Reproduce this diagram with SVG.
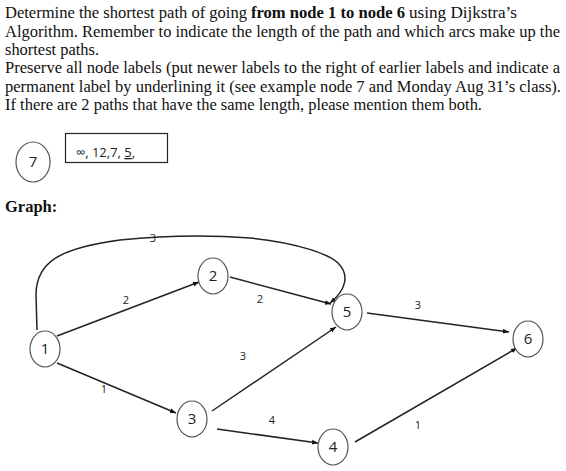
<svg xmlns="http://www.w3.org/2000/svg" width="566" height="471" viewBox="0 0 566 471">
<style>
.q{font-family:"Liberation Serif","Times New Roman",serif;font-size:16.5px;fill:#111}
.b{font-weight:bold}
.node ellipse{fill:#fff;stroke:#555;stroke-width:1.2}
.node text{font-family:"Open Sans","Liberation Sans",sans-serif;font-size:15px;fill:#222;text-anchor:middle}
.edge{fill:none;stroke:#222;stroke-width:1.5}
.lbl{font-family:"Open Sans","Liberation Sans",sans-serif;font-size:11px;fill:#222;text-anchor:middle}
</style>
<defs>
<marker id="ah" viewBox="0 0 10 10" refX="10" refY="5" markerWidth="6" markerHeight="6" orient="auto" markerUnits="userSpaceOnUse">
<path d="M0,1 L10,5 L0,9 Z" fill="#111"/>
</marker>
</defs>
<rect width="566" height="471" fill="#fff"/>
<g id="question">
<text class="q" x="5" y="18" textLength="242" lengthAdjust="spacingAndGlyphs">Determine the shortest path of going</text>
<text class="q b" x="251" y="18" textLength="154" lengthAdjust="spacingAndGlyphs">from node 1 to node 6</text>
<text class="q" x="409" y="18" textLength="108" lengthAdjust="spacingAndGlyphs">using Dijkstra’s</text>
<text class="q" x="5" y="36.5" textLength="555" lengthAdjust="spacingAndGlyphs">Algorithm. Remember to indicate the length of the path and which arcs make up the</text>
<text class="q" x="5" y="55" textLength="94" lengthAdjust="spacingAndGlyphs">shortest paths.</text>
<text class="q" x="5" y="73" textLength="555" lengthAdjust="spacingAndGlyphs">Preserve all node labels (put newer labels to the right of earlier labels and indicate a</text>
<text class="q" x="5" y="91.5" textLength="556" lengthAdjust="spacingAndGlyphs">permanent label by underlining it (see example node 7 and Monday Aug 31’s class).</text>
<text class="q" x="5" y="110" textLength="477" lengthAdjust="spacingAndGlyphs">If there are 2 paths that have the same length, please mention them both.</text>
</g>
<g id="example" class="node">
<ellipse cx="33" cy="162" rx="17" ry="20"/>
<text x="33" y="167">7</text>
</g>
<g id="example-box">
<rect x="65.5" y="133.5" width="102" height="29" fill="#fff" stroke="#222" stroke-width="1.2"/>
<text x="76" y="157" font-family="'Open Sans','Liberation Sans',sans-serif" font-size="13" fill="#222">∞, 12,7, <tspan text-decoration="underline">5</tspan>,</text>
</g>
<text class="q b" x="5" y="212" font-size="16">Graph:</text>
<g id="connectors">
<path class="edge" d="M37,330 L36,295 C36,262 60,248 120,240 C160,236 210,235 250,238 C300,243 330,255 338,263 C350,275 346,290 330,303" marker-end="url(#ah)"/>
<path class="edge" d="M57,336 L199,282" marker-end="url(#ah)"/>
<path class="edge" d="M57,363 L176,413" marker-end="url(#ah)"/>
<path class="edge" d="M230,277 L331,304" marker-end="url(#ah)"/>
<path class="edge" d="M212,411 L336,327" marker-end="url(#ah)"/>
<path class="edge" d="M217,429 L318,443" marker-end="url(#ah)"/>
<path class="edge" d="M367,313 L509,332" marker-end="url(#ah)"/>
<path class="edge" d="M355,442 L517,348" marker-end="url(#ah)"/>
<text class="lbl" x="153" y="242">3</text>
<text class="lbl" x="126" y="304">2</text>
<text class="lbl" x="260" y="303">2</text>
<text class="lbl" x="243" y="360">3</text>
<text class="lbl" x="104" y="393">1</text>
<text class="lbl" x="272" y="424">4</text>
<text class="lbl" x="418" y="309">3</text>
<text class="lbl" x="418" y="429">1</text>
</g>
<g id="n1" class="node"><ellipse cx="45" cy="349" rx="15" ry="18"/><text x="45" y="354">1</text></g>
<g id="n2" class="node"><ellipse cx="213" cy="276" rx="15" ry="18"/><text x="213" y="281">2</text></g>
<g id="n3" class="node"><ellipse cx="192" cy="419" rx="15" ry="18"/><text x="192" y="424">3</text></g>
<g id="n4" class="node"><ellipse cx="333" cy="447" rx="15" ry="18"/><text x="333" y="452">4</text></g>
<g id="n5" class="node"><ellipse cx="347" cy="312" rx="15" ry="18"/><text x="347" y="317">5</text></g>
<g id="n6" class="node"><ellipse cx="528" cy="339" rx="15" ry="18"/><text x="528" y="344">6</text></g>
</svg>
